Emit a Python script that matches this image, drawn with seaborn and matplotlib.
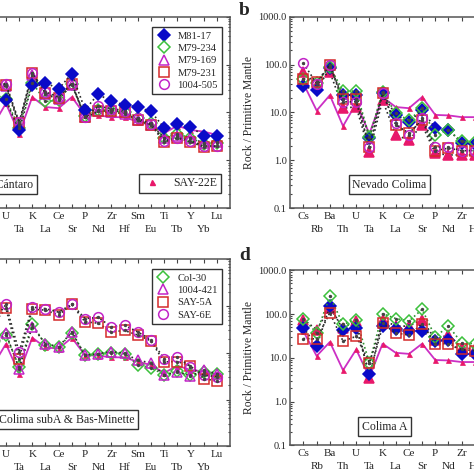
"""Primitive-mantle normalised spider diagrams (four panels, cropped view)."""

import matplotlib

matplotlib.use("Agg")
import matplotlib.pyplot as plt
import numpy as np
import seaborn as sns
from matplotlib.lines import Line2D
from matplotlib.ticker import FixedLocator, FuncFormatter, NullFormatter

ELEMENTS = ["Cs", "Rb", "Ba", "Th", "U", "Ta", "K", "La", "Ce", "Sr", "P",
            "Nd", "Zr", "Hf", "Sm", "Eu", "Ti", "Tb", "Y", "Yb", "Lu"]

# reference basalt shown in every panel
SAY_22E = [40, 11, 23, 5.2, 15.5, 3.6, 21, 13, 12.3, 21, 8.9,
           8.7, 8.0, 8.0, 6.4, 5.5, 3.7, 5.3, 4.3, 4.0, 3.4]

# panel a - Cantaro
M81_17 = [30, 28, 95, 20, 18, 4.3, 38, 42, 31, 65, 11.5,
          24, 17, 14.5, 13, 10.5, 4.8, 5.8, 5.0, 3.3, 3.3]
M79_234 = [40, 35, 100, 25, 19, 4.8, 42, 17, 18, 40, 8.5,
           11.5, 11, 10, 7.5, 6.0, 3.0, 3.5, 3.0, 2.2, 2.3]
M79_169 = [45, 38, 105, 32, 35, 5.5, 60, 24, 19, 38, 8.0,
           10.5, 10, 9.5, 7.0, 5.5, 3.0, 3.3, 3.0, 2.3, 2.4]
M79_231 = [50, 40, 110, 36, 38, 6.0, 66, 25, 20, 40, 8.0,
           10.5, 11, 10.3, 6.9, 5.5, 2.45, 2.9, 2.45, 1.9, 2.0]
S1004_505 = [55, 42, 115, 38, 40, 6.3, 66, 27, 21, 40, 8.2,
             13.5, 12, 11, 7.5, 5.8, 2.6, 3.0, 2.6, 2.0, 2.0]

# panel b - Nevado Colima (legend outside the visible area)
B_BLUE = [35, 29.5, 85, 23, 23, 3.0, 25, 8.8, 6.4, 11.2, 4.7,
          4.4, 2.3, 2.2, 2.0, 1.8, 1.5, 1.6, 1.5, 1.3, 1.3]
B_GREEN = [50, 42, 90, 28, 28, 3.1, 27, 9.6, 6.9, 12.2, 3.4,
           4.3, 2.5, 2.4, 2.2, 1.9, 1.6, 1.7, 1.6, 1.4, 1.4]
B_TRIANGLE = [71, 37, 71, 12.2, 13.2, 1.5, 18, 3.4, 2.65, 5.5, 1.4,
              1.3, 1.3, 1.3, 1.2, 1.1, 1.0, 1.0, 1.0, 0.9, 0.9]
B_SQUARE = [51, 44, 98, 18.7, 18.7, 1.9, 25, 5.5, 3.7, 6.9, 1.6,
            1.8, 1.6, 1.6, 1.5, 1.4, 1.2, 1.3, 1.2, 1.1, 1.1]
B_CIRCLE = [106, 40, 98, 16.7, 16.7, 1.87, 25, 5.9, 3.4, 7.7, 1.9,
            1.9, 1.6, 1.6, 1.5, 1.4, 1.2, 1.3, 1.2, 1.1, 1.1]

# panel c - Colima subA & Bas-Minette
COL_30 = [40, 35, 150, 12, 24, 5.0, 42, 14.5, 13, 27, 8.8,
          9.5, 10, 9.5, 5.5, 4.8, 3.4, 4.0, 3.3, 3.8, 3.5]
S1004_421 = [45, 38, 160, 13, 26, 4.6, 36, 15.8, 13.4, 28, 8.9,
             9.6, 10.6, 9.8, 6.9, 6.1, 3.3, 3.9, 3.2, 4.2, 3.6]
SAY_5A = [80, 70, 400, 40, 90, 7.5, 85, 82, 64, 108, 46,
          43, 28, 30, 24, 18, 6.4, 6.5, 5.3, 2.8, 2.5]
SAY_6E = [90, 75, 420, 45, 108, 10.4, 95, 88, 74, 110, 54,
          57, 36, 39, 28, 19, 7.5, 8.2, 5.0, 3.3, 3.1]

# panel d - Colima A (legend outside the visible area)
D_GREEN = [78, 37, 257, 58, 75, 7.7, 102, 79, 69, 128, 30,
           53, 22, 21, 16, 13, 9, 8, 7, 6, 6]
D_SQUARE = [27.6, 27, 107, 24, 31, 7.7, 63, 37, 33, 60, 21,
            21, 15.5, 14.5, 11, 9, 6, 5.5, 5, 4.5, 4.5]
D_BLUE = [49, 18.5, 151, 44, 49, 4.2, 53, 45, 41, 41, 24,
          26, 12, 12.5, 10, 8, 5.5, 5, 4.5, 4, 4]
D_TRIANGLE = [75, 44, 139, 49, 69, 3.5, 75, 53, 53, 75, 26,
              34, 17, 16, 12, 10, 6, 6, 5, 4.5, 4.5]

BLUE = "#0a0ac8"
GREEN = "#3cc03c"
MAGENTA = "#c224c8"
RED = "#d42a2a"
PINK = "#e8186a"
LINE_DARK = "#2b2b2b"
LINE_GREEN = "#2f8f2f"

STYLES = {
    "blue": dict(marker="D", markersize=6.2, markerfacecolor=BLUE,
                 markeredgecolor=BLUE, color=LINE_DARK),
    "green": dict(marker="D", markersize=5.8, markerfacecolor="none",
                  markeredgecolor=GREEN, color=LINE_GREEN),
    "mtri": dict(marker="^", markersize=6.8, markerfacecolor="none",
                 markeredgecolor=MAGENTA, color=LINE_DARK),
    "square": dict(marker="s", markersize=6.6, markerfacecolor="none",
                   markeredgecolor=RED, color=LINE_DARK),
    "circle": dict(marker="o", markersize=7.0, markerfacecolor="none",
                   markeredgecolor=MAGENTA, color=LINE_DARK),
    "ptri": dict(marker="^", markersize=6.6, markerfacecolor=PINK,
                 markeredgecolor=PINK, color=LINE_DARK),
}

FONT = ["Liberation Serif", "DejaVu Serif"]
W = H = 474.0


def px_axes(left, top, right, bottom):
    return [left / W, 1 - bottom / H, (right - left) / W, (bottom - top) / H]


def draw_reference(ax, x):
    sns.lineplot(x=x, y=SAY_22E, ax=ax, color="#cc2fc4", linewidth=1.3,
                 marker="^", markersize=3.6, markerfacecolor=PINK,
                 markeredgecolor=PINK, markeredgewidth=0.5, legend=False,
                 zorder=2)


def draw_sample(ax, x, values, style, label=None):
    st = STYLES[style]
    sns.lineplot(x=x, y=values, ax=ax, linestyle=":", linewidth=1.2,
                 markeredgewidth=1.1, legend=False, zorder=3, label=label, **st)
    if st["markerfacecolor"] == "none":
        ax.plot(x, values, linestyle="none", marker="o", markersize=1.4,
                color="#444444", zorder=4)


def style_axes(ax):
    x = np.arange(len(ELEMENTS))
    ax.set_yscale("log")
    ax.set_ylim(0.1, 1000)
    ax.set_xlim(-1, len(ELEMENTS))
    ax.set_xticks(x)
    ax.set_xticklabels([el if i % 2 == 0 else "\n" + el for i, el in enumerate(ELEMENTS)],
                       fontsize=8, family=FONT)
    for lab in ax.get_xticklabels():
        lab.set_linespacing(1.45)
    ax.yaxis.set_major_locator(FixedLocator([0.1, 1, 10, 100, 1000]))
    ax.yaxis.set_major_formatter(FuncFormatter(lambda v, _: f"{v:.1f}"))
    ax.yaxis.set_minor_formatter(NullFormatter())
    for lab in ax.get_yticklabels():
        lab.set_fontsize(7.5)
        lab.set_family(FONT)
    ax.tick_params(which="both", direction="in", top=True, right=True,
                   color="#444444", width=0.8)
    ax.tick_params(which="major", length=3, pad=2.5)
    ax.tick_params(which="minor", length=1.6)
    ax.tick_params(axis="x", pad=3)
    for spine in ax.spines.values():
        spine.set_color("#555555")
        spine.set_linewidth(1.1)
    ax.set_ylabel("Rock / Primitive Mantle", fontsize=8.4, family=FONT)
    ax.yaxis.set_label_coords(-0.122, 0.5)
    ax.set_xlabel("")


def text_box(ax, x, y, s, ha):
    ax.text(x, y, s, transform=ax.transAxes, ha=ha, va="center", fontsize=8.5,
            family=FONT, zorder=6,
            bbox=dict(boxstyle="square,pad=0.3", fc="white", ec="#333333", lw=1.0))


def legend_handle(style, label):
    st = dict(STYLES[style])
    st.pop("color")
    return Line2D([], [], linestyle="none", markeredgewidth=1.1, label=label, **st)


def main():
    sns.set_theme(style="ticks")
    plt.rcParams["font.family"] = FONT
    x = np.arange(len(ELEMENTS))

    fig = plt.figure(figsize=(4.74, 4.74), dpi=100)
    ax_a = fig.add_axes(px_axes(-60, 16.7, 230, 208.3))
    ax_b = fig.add_axes(px_axes(290.3, 16.7, 580.3, 208.3))
    ax_c = fig.add_axes(px_axes(-60, 259.3, 230, 446.3))
    ax_d = fig.add_axes(px_axes(290.3, 270.3, 580.3, 445.3))

    # a: Cantaro
    draw_reference(ax_a, x)
    for vals, st in [(M79_234, "green"), (M79_169, "mtri"), (M79_231, "square"),
                     (S1004_505, "circle"), (M81_17, "blue")]:
        draw_sample(ax_a, x, vals, st)
    style_axes(ax_a)
    handles = [legend_handle("blue", "M81-17"), legend_handle("green", "M79-234"),
               legend_handle("mtri", "M79-169"), legend_handle("square", "M79-231"),
               legend_handle("circle", "1004-505")]
    leg = ax_a.legend(handles=handles, loc="upper right", bbox_to_anchor=(0.972, 0.946),
                      borderaxespad=0, fontsize=7.6, frameon=True, fancybox=False,
                      edgecolor="#333333", framealpha=1, handlelength=1.4,
                      handletextpad=0.6, labelspacing=0.28, borderpad=0.4)
    leg.get_frame().set_linewidth(1.0)
    ax_a.add_artist(leg)
    ref = Line2D([], [], linestyle="none", marker="^", markersize=3.6,
                 markerfacecolor=PINK, markeredgecolor=PINK, label="SAY-22E")
    leg2 = ax_a.legend(handles=[ref], loc="lower right", bbox_to_anchor=(0.969, 0.080),
                       borderaxespad=0, fontsize=8.5, frameon=True, fancybox=False,
                       edgecolor="#333333", framealpha=1, handlelength=1.6,
                       handletextpad=1.0, borderpad=0.3)
    leg2.get_frame().set_linewidth(1.0)
    text_box(ax_a, 0.322, 0.124, "Volcán Cántaro", "right")

    # b: Nevado Colima
    draw_reference(ax_b, x)
    for vals, st in [(B_TRIANGLE, "ptri"), (B_BLUE, "blue"), (B_GREEN, "green"),
                     (B_SQUARE, "square"), (B_CIRCLE, "circle")]:
        draw_sample(ax_b, x, vals, st)
    style_axes(ax_b)
    text_box(ax_b, 0.342, 0.124, "Nevado Colima", "center")

    # c: Colima subA & Bas-Minette
    draw_reference(ax_c, x)
    for vals, st in [(COL_30, "green"), (S1004_421, "mtri"),
                     (SAY_5A, "square"), (SAY_6E, "circle")]:
        draw_sample(ax_c, x, vals, st)
    style_axes(ax_c)
    handles = [legend_handle("green", "Col-30"), legend_handle("mtri", "1004-421"),
               legend_handle("square", "SAY-5A"), legend_handle("circle", "SAY-6E")]
    leg = ax_c.legend(handles=handles, loc="upper right", bbox_to_anchor=(0.972, 0.948),
                      borderaxespad=0, fontsize=7.6, frameon=True, fancybox=False,
                      edgecolor="#333333", framealpha=1, handlelength=1.4,
                      handletextpad=0.6, labelspacing=0.28, borderpad=0.4)
    leg.get_frame().set_linewidth(1.0)
    text_box(ax_c, 0.669, 0.142, "Colima subA & Bas-Minette", "right")

    # d: Colima A
    draw_reference(ax_d, x)
    for vals, st in [(D_TRIANGLE, "ptri"), (D_BLUE, "blue"),
                     (D_GREEN, "green"), (D_SQUARE, "square")]:
        draw_sample(ax_d, x, vals, st)
    style_axes(ax_d)
    text_box(ax_d, 0.325, 0.105, "Colima A", "center")

    for letter, lx, ly in [("a", -111, 2), ("b", 239, 2), ("c", -111, 247), ("d", 239, 247)]:
        fig.text(lx / W, 1 - ly / H, letter, ha="left", va="top", fontsize=14,
                 fontweight="bold", family=FONT)

    fig.savefig("out.png", dpi=100, facecolor="white")


if __name__ == "__main__":
    main()
